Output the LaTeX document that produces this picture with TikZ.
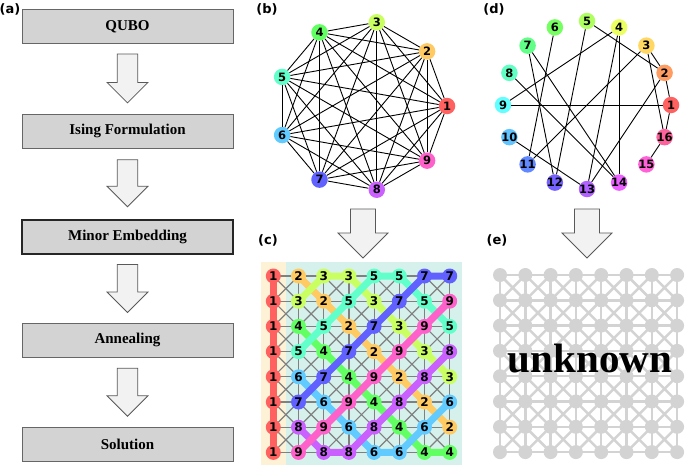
\documentclass[tikz,border=0pt]{standalone}
\usepackage{fontspec}
\setmainfont{Liberation Serif}
\newfontfamily\numfont{DejaVu Sans}
\usepackage{xcolor}
\usepackage{tikz}
\usetikzlibrary{positioning,calc}

\definecolor{boxgray}{HTML}{D3D3D3}
\definecolor{arrowgray}{HTML}{F2F2F2}
\definecolor{gridgray}{HTML}{808080}
\definecolor{ghost}{HTML}{D3D3D3}
\definecolor{stripone}{HTML}{FDF2D6}
\definecolor{striptwo}{HTML}{D6F1EC}
% node colours, K9 and the 16-variable problem
\definecolorset{HTML}{cb}{}{1,FF6161;2,FFCA61;3,CAFF61;4,61FF61;5,61FFCA;6,61CAFF;7,6161FF;8,CA61FF;9,FF61CA}
\definecolorset{HTML}{cd}{}{1,FF6161;2,FF9C61;3,FFD761;4,EBFF61;5,B0FF61;6,75FF61;7,61FF88;8,61FFC4;9,61FFFF;10,61C4FF;11,6188FF;12,7561FF;13,B061FF;14,EB61FF;15,FF61D7;16,FF619C}

\newcommand{\fatarrow}[3]{%
  \draw[fatarrow] let \p1=(#2), \p2=(#3) in
    (\x1-0.5*#1pt,\y1) -- (\x1+0.5*#1pt,\y1) -- (\x1+0.5*#1pt,\y2+#1pt)
    -- (\x1+#1pt,\y2+#1pt) -- (\x1,\y2) -- (\x1-#1pt,\y2+#1pt)
    -- (\x1-0.5*#1pt,\y2+#1pt) -- cycle;}

\begin{document}
\begin{tikzpicture}[x=1pt,y=-1pt,
    stage/.style={draw=black!60, fill=boxgray, line width=0.8pt, minimum width=211pt, minimum height=34pt, font=\bfseries\fontsize{15}{18}\selectfont},
    fatarrow/.style={draw=black!65, fill=arrowgray, line width=0.8pt},
    panel/.style={font=\numfont\bfseries\fontsize{13}{15}\selectfont},
    vertex/.style={circle, inner sep=0pt, minimum size=16.5pt, font=\numfont\bfseries\fontsize{11.5}{13}\selectfont},
    cell/.style={circle, inner sep=0pt, minimum size=15pt, font=\numfont\bfseries\fontsize{12}{14}\selectfont},
    chain/.style={line width=7pt, line cap=round, line join=round},
    link/.style={draw=black, line width=0.9pt},
    grid/.style={draw=gridgray, line width=1.2pt},
    ghostgrid/.style={draw=ghost, line width=2.5pt}]
    \useasboundingbox (0,0) rectangle (685,466);

    % (a) workflow
    \node[panel] (la) at (10,9) {(a)};
    \node[stage] (qubo) at (127.5,26.5) {QUBO};
    \node[stage, below=70pt of qubo] (ising) {Ising Formulation};
    \node[stage, below=70pt of ising, draw=black!85, line width=1.8pt] (minor) {Minor Embedding};
    \node[stage, below=68pt of minor] (anneal) {Annealing};
    \node[stage, below=70pt of anneal] (sol) {Solution};
    \fatarrow{20.5}{$(qubo.south)+(0,10)$}{$(ising.north)+(0,-11)$}
    \fatarrow{20.5}{$(ising.south)+(0,11)$}{$(minor.north)+(0,-12)$}
    \fatarrow{20.5}{$(minor.south)+(0,10)$}{$(anneal.north)+(0,-10)$}
    \fatarrow{20.5}{$(anneal.south)+(0,11)$}{$(sol.north)+(0,-11)$}

    % (b) complete graph
    \node[panel] (lb) at (267,9) {(b)};
    \begin{scope}[shift={(362,106)}]
        \foreach \k in {1,...,9}
            \node[vertex, fill=cb\k] (b\k) at ({-(\k-1)*40}:85) {\k};
    \end{scope}
    \foreach \i [evaluate=\i as \nxt using int(\i+1)] in {1,...,8}
        \foreach \j in {\nxt,...,9}
            \draw[link] (b\i) -- (b\j);

    % (d) sparse problem graph
    \node[panel] (ld) at (494,9) {(d)};
    \begin{scope}[shift={(587,105)}]
        \foreach \k in {1,...,16}
            \node[vertex, fill=cd\k] (d\k) at ({-(\k-1)*22.5}:84) {\makebox[0pt]{\k}};
    \end{scope}
    \foreach \i/\j in {1/2,1/9,1/16,2/3,2/5,2/13,3/11,3/16,4/9,4/13,4/14,5/12,6/11,7/12,7/14,8/14,10/13,15/16}
        \draw[link] (d\i) -- (d\j);

    % arrows down to the hardware
    \coordinate (bc top) at (363,209);
    \coordinate (bc tip) at (363,258);
    \coordinate (de top) at (587,209);
    \coordinate (de tip) at (587,258);
    \fatarrow{25}{bc top}{bc tip}
    \fatarrow{25}{de top}{de tip}

    % (c) embedding on the king's graph
    \node[panel] (lc) at (268,240) {(c)};
    \fill[stripone] (261,262) rectangle (286,465);
    \fill[striptwo] (286,262) rectangle (462,465);
    \foreach \i in {1,...,8}
        \foreach \j in {1,...,8} {
            \coordinate (p-\i-\j) at ({273.3+25.2*(\j-1)},{276+25.2*(\i-1)});
            \coordinate (q-\i-\j) at ({500+25.3*(\j-1)},{275+25.3*(\i-1)});
        }
    \foreach \i in {1,...,8}
        \foreach \j [count=\jj from 2] in {1,...,7}
            \draw[grid] (p-\i-\j) -- (p-\i-\jj) (p-\j-\i) -- (p-\jj-\i);
    \foreach \i [count=\ii from 2] in {1,...,7}
        \foreach \j [count=\jj from 2] in {1,...,7}
            \draw[grid] (p-\i-\j) -- (p-\ii-\jj) (p-\i-\jj) -- (p-\ii-\j);
    \draw[chain, cb1] (p-1-1) -- (p-8-1);
    \draw[chain, cb2] (p-1-2) -- (p-2-3) -- (p-3-4) -- (p-4-5) -- (p-5-6) -- (p-6-7) -- (p-7-8);
    \draw[chain, cb3] (p-2-2) -- (p-1-3) -- (p-1-4) -- (p-2-5) -- (p-3-6) -- (p-4-7) -- (p-5-8);
    \draw[chain, cb4] (p-3-2) -- (p-4-3) -- (p-5-4) -- (p-6-5) -- (p-7-6) -- (p-8-7) -- (p-8-8);
    \draw[chain, cb5] (p-4-2) -- (p-3-3) -- (p-2-4) -- (p-1-5) -- (p-1-6) -- (p-2-7) -- (p-3-8);
    \draw[chain, cb6] (p-5-2) -- (p-6-3) -- (p-7-4) -- (p-8-5) -- (p-8-6) -- (p-7-7) -- (p-6-8);
    \draw[chain, cb7] (p-6-2) -- (p-5-3) -- (p-4-4) -- (p-3-5) -- (p-2-6) -- (p-1-7) -- (p-1-8);
    \draw[chain, cb8] (p-7-2) -- (p-8-3) -- (p-8-4) -- (p-7-5) -- (p-6-6) -- (p-5-7) -- (p-4-8);
    \draw[chain, cb9] (p-8-2) -- (p-7-3) -- (p-6-4) -- (p-5-5) -- (p-4-6) -- (p-3-7) -- (p-2-8);
    \foreach \row [count=\i] in {{1,2,3,3,5,5,7,7},{1,3,2,5,3,7,5,9},{1,4,5,2,7,3,9,5},{1,5,4,7,2,9,3,8},
                                 {1,6,7,4,9,2,8,3},{1,7,6,9,4,8,2,6},{1,8,9,6,8,4,6,2},{1,9,8,8,6,6,4,4}}
        \foreach \v [count=\j] in \row
            \node[cell, fill=cb\v] (c-\i-\j) at (p-\i-\j) {\v};

    % (e) hardware graph, embedding unknown
    \node[panel] (le) at (497,240) {(e)};
    \foreach \i in {1,...,8}
        \foreach \j [count=\jj from 2] in {1,...,7}
            \draw[ghostgrid] (q-\i-\j) -- (q-\i-\jj) (q-\j-\i) -- (q-\jj-\i);
    \foreach \i [count=\ii from 2] in {1,...,7}
        \foreach \j [count=\jj from 2] in {1,...,7}
            \draw[ghostgrid] (q-\i-\j) -- (q-\ii-\jj) (q-\i-\jj) -- (q-\ii-\j);
    \foreach \i in {1,...,8}
        \foreach \j in {1,...,8}
            \node[circle, fill=ghost, minimum size=14pt, inner sep=0pt] (e-\i-\j) at (q-\i-\j) {};
    \node[anchor=base, font=\bfseries\fontsize{41}{46}\selectfont] (unk) at (590,372) {unknown};
\end{tikzpicture}
\end{document}
